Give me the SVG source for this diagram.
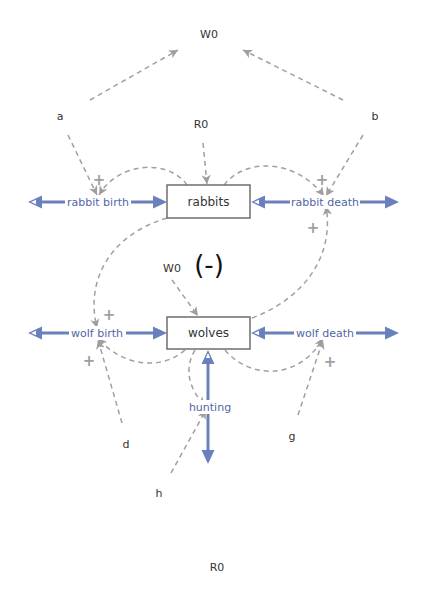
<svg xmlns="http://www.w3.org/2000/svg" width="434" height="600" viewBox="0 0 434 600">
<style>
.var{font-family:"DejaVu Sans","Liberation Sans",sans-serif;font-size:11px;fill:#333;text-anchor:middle;dominant-baseline:central}
.flab{font-family:"DejaVu Sans","Liberation Sans",sans-serif;font-size:11px;fill:#4f66a8;text-anchor:middle;dominant-baseline:central}
.box{fill:#fff;stroke:#6e6e6e;stroke-width:1.5}
.flow{stroke:#6a80bd;stroke-width:3;fill:none}
.lnk{stroke:#a0a0a0;stroke-width:1.5;fill:none;stroke-dasharray:5,4}
.plus{font-family:"DejaVu Sans",sans-serif;font-size:15px;font-weight:bold;fill:#a0a0a0;text-anchor:middle;dominant-baseline:central}
.ah{fill:#6a80bd}
</style>
<defs>
<marker id="ga" markerUnits="userSpaceOnUse" markerWidth="10" markerHeight="10" refX="9" refY="5" orient="auto">
<path d="M0,0.5 L9,5 L0,9.5 L2.5,5 Z" fill="#9e9e9e"/>
</marker>
<g id="headR"><path d="M0,0 L-14,-6.5 L-14,6.5 Z" class="ah"/></g>
<g id="headN"><path d="M0,0 L-14,-6.5 L-14,6.5 Z" class="ah"/><path d="M-3,0 L-8,-2.2 L-8,2.2 Z" fill="#fff"/></g>
</defs>

<g id="connectors">
<path class="lnk" marker-end="url(#ga)" d="M90,100 L178,50"/>
<path class="lnk" marker-end="url(#ga)" d="M343,100 L243,50"/>
<path class="lnk" marker-end="url(#ga)" d="M203,143 L207,184"/>
<path class="lnk" marker-end="url(#ga)" d="M68,135 L97,195"/>
<path class="lnk" marker-end="url(#ga)" d="M187,185 C170,160 120,160 99,195"/>
<path class="lnk" marker-end="url(#ga)" d="M363,135 L326,196"/>
<path class="lnk" marker-end="url(#ga)" d="M224,185 C245,158 295,158 324,196"/>
<path class="lnk" marker-end="url(#ga)" d="M252,318 C300,300 335,260 326,206"/>
<path class="lnk" marker-end="url(#ga)" d="M167,218 C110,235 85,280 97,328"/>
<path class="lnk" marker-end="url(#ga)" d="M172,280 L198,316"/>
<path class="lnk" marker-end="url(#ga)" d="M185,350 C160,372 120,365 98,338"/>
<path class="lnk" marker-end="url(#ga)" d="M122,423 L98,340"/>
<path class="lnk" marker-end="url(#ga)" d="M225,350 C250,380 300,380 323,338"/>
<path class="lnk" marker-end="url(#ga)" d="M298,415 L323,340"/>
<path class="lnk" marker-end="url(#ga)" d="M195,350 C183,370 190,390 205,406"/>
<path class="lnk" marker-end="url(#ga)" d="M171,473 L206,410"/>
</g>

<g id="rabbit-birth">
<line class="flow" x1="38" y1="202" x2="155" y2="202"/>
<use href="#headN" transform="translate(28,202) rotate(180)"/>
<use href="#headR" transform="translate(167,202)"/>
<rect x="65" y="195" width="66" height="14" fill="#fff"/>
<text class="flab" x="98" y="202">rabbit birth</text>
</g>
<g id="rabbit-death">
<line class="flow" x1="262" y1="202" x2="386" y2="202"/>
<use href="#headN" transform="translate(251,202) rotate(180)"/>
<use href="#headR" transform="translate(399,202)"/>
<rect x="290" y="195" width="70" height="14" fill="#fff"/>
<text class="flab" x="325" y="202">rabbit death</text>
</g>
<g id="wolf-birth">
<line class="flow" x1="38" y1="333" x2="155" y2="333"/>
<use href="#headN" transform="translate(28,333) rotate(180)"/>
<use href="#headR" transform="translate(167,333)"/>
<rect x="69" y="326" width="57" height="14" fill="#fff"/>
<text class="flab" x="97" y="333">wolf birth</text>
</g>
<g id="wolf-death">
<line class="flow" x1="262" y1="333" x2="386" y2="333"/>
<use href="#headN" transform="translate(251,333) rotate(180)"/>
<use href="#headR" transform="translate(399,333)"/>
<rect x="294" y="326" width="62" height="14" fill="#fff"/>
<text class="flab" x="325" y="333">wolf death</text>
</g>
<g id="hunting">
<line class="flow" x1="208" y1="360" x2="208" y2="452"/>
<use href="#headN" transform="translate(208,350) rotate(-90)"/>
<use href="#headR" transform="translate(208,464) rotate(90)"/>
<rect x="188" y="400" width="43" height="14" fill="#fff"/>
<text class="flab" x="210" y="407">hunting</text>
</g>

<g id="rabbits">
<rect class="box" x="167" y="185" width="83" height="33"/>
<text class="var" x="208.5" y="202" style="font-size:12px">rabbits</text>
</g>
<g id="wolves">
<rect class="box" x="167" y="317" width="83" height="32"/>
<text class="var" x="208.5" y="333" style="font-size:12px">wolves</text>
</g>

<g id="W0-top"><text class="var" x="209" y="34">W0</text></g>
<g id="a"><text class="var" x="60" y="116">a</text></g>
<g id="b"><text class="var" x="375" y="116">b</text></g>
<g id="R0-top"><text class="var" x="201" y="124">R0</text></g>
<g id="W0-mid"><text class="var" x="172" y="268">W0</text></g>
<g id="d"><text class="var" x="126" y="444">d</text></g>
<g id="g"><text class="var" x="292" y="436">g</text></g>
<g id="h"><text class="var" x="159" y="493">h</text></g>
<g id="R0-bottom"><text class="var" x="217" y="567">R0</text></g>
<g id="loop"><text x="209" y="265" style="font-family:'DejaVu Sans',sans-serif;font-size:26px;fill:#111;text-anchor:middle;dominant-baseline:central">(-)</text></g>

<g id="signs">
<text class="plus" x="99" y="180">+</text>
<text class="plus" x="322" y="180">+</text>
<text class="plus" x="313" y="228">+</text>
<text class="plus" x="109" y="315">+</text>
<text class="plus" x="89" y="361">+</text>
<text class="plus" x="330" y="362">+</text>
</g>
</svg>
